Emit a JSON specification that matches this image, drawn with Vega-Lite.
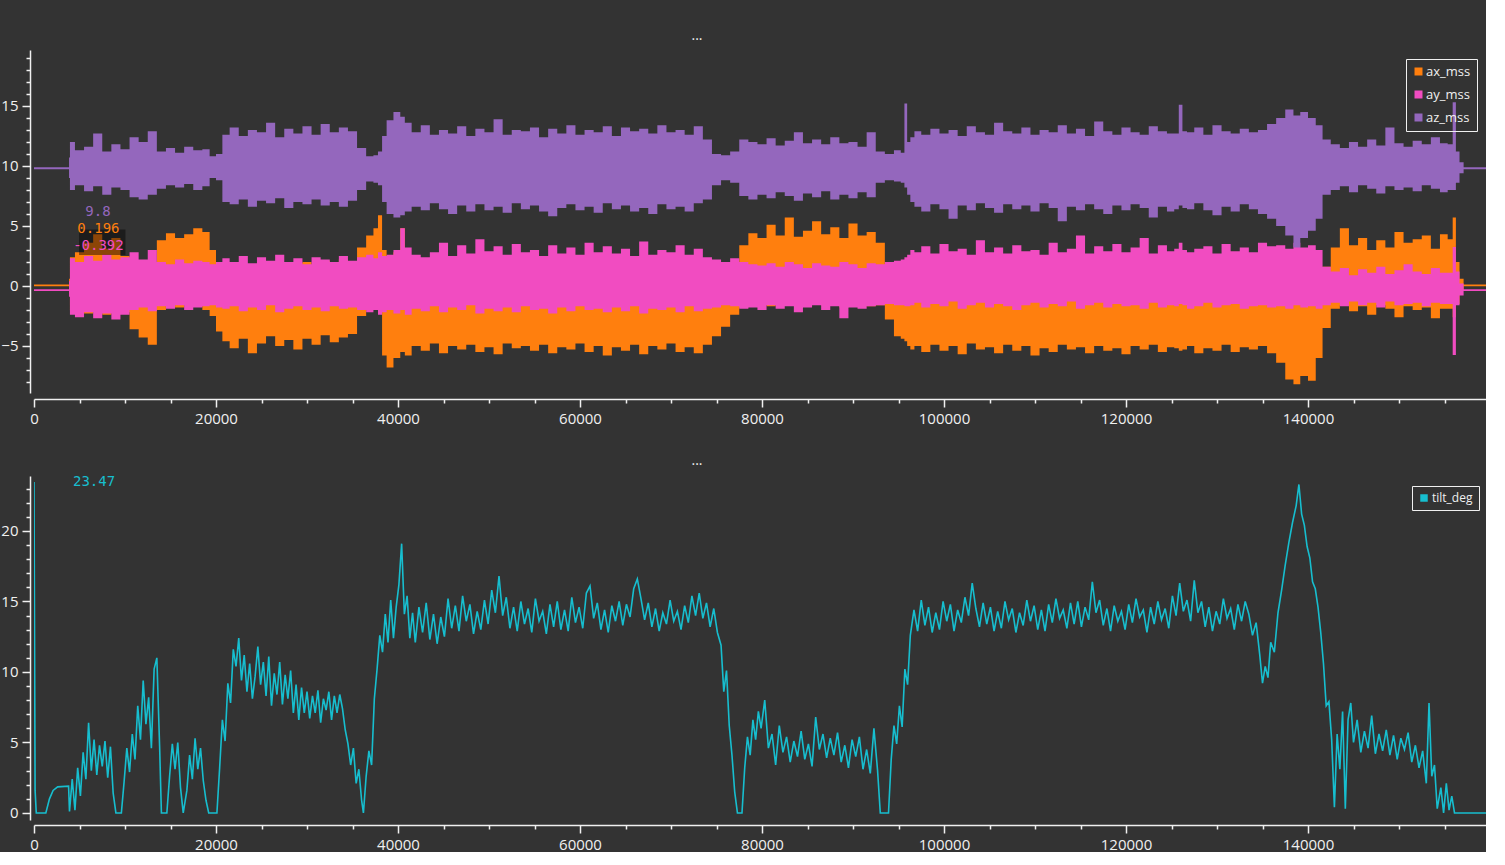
{
"$schema": "https://vega.github.io/schema/vega-lite/v6.json",
"background": "#333333",
"padding": {"left": 0, "top": 29, "right": 0, "bottom": 0},
"config": {
  "view": {"stroke": null},
  "font": "Open Sans",
  "axis": {"domainColor": "#f0f0f0", "tickColor": "#f0f0f0", "labelColor": "#f0f0f0", "labelFont": "Open Sans", "labelFontSize": 15, "grid": false, "domainWidth": 1.5, "tickWidth": 1.5, "labelOverlap": false, "labelFlush": false},
  "title": {"color": "#f0f0f0", "fontSize": 14, "fontWeight": "normal", "font": "Open Sans"}
},
"datasets": {
"acc": [
{"t":0,"axl":-0.03,"axh":0.13,"ayl":-0.43,"ayh":-0.27,"azl":9.72,"azh":9.88},
{"t":3800,"axl":-0.03,"axh":0.13,"ayl":-0.43,"ayh":-0.27,"azl":9.72,"azh":9.88},
{"t":3900,"axl":-0.6,"axh":0.6,"ayl":-0.9,"ayh":0.4,"azl":9.0,"azh":10.7},
{"t":4000,"axl":-2.0,"axh":2.4,"ayl":-2.4,"ayh":2.3,"azl":8.0,"azh":12.0},
{"t":5000,"axl":-1.7,"axh":2.8,"ayl":-2.6,"ayh":2.0,"azl":8.4,"azh":11.3},
{"t":6000,"axl":-2.3,"axh":3.6,"ayl":-2.2,"ayh":2.5,"azl":7.9,"azh":11.6},
{"t":7000,"axl":-1.9,"axh":4.3,"ayl":-2.7,"ayh":2.1,"azl":8.3,"azh":12.7},
{"t":8000,"axl":-2.4,"axh":3.1,"ayl":-2.3,"ayh":2.6,"azl":7.6,"azh":11.2},
{"t":9000,"axl":-1.8,"axh":4.0,"ayl":-2.8,"ayh":2.2,"azl":8.2,"azh":11.8},
{"t":10000,"axl":-2.2,"axh":2.5,"ayl":-2.4,"ayh":2.4,"azl":8.0,"azh":11.4},
{"t":11000,"axl":-3.6,"axh":1.6,"ayl":-2.0,"ayh":2.8,"azl":7.4,"azh":12.4},
{"t":12000,"axl":-4.3,"axh":1.4,"ayl":-1.8,"ayh":2.2,"azl":7.2,"azh":12.0},
{"t":13000,"axl":-4.9,"axh":1.5,"ayl":-2.1,"ayh":3.0,"azl":7.6,"azh":12.9},
{"t":14000,"axl":-2.0,"axh":3.8,"ayl":-1.7,"ayh":2.0,"azl":8.1,"azh":11.2},
{"t":15000,"axl":-1.6,"axh":4.4,"ayl":-1.9,"ayh":1.8,"azl":8.4,"azh":11.5},
{"t":16000,"axl":-1.8,"axh":4.0,"ayl":-1.6,"ayh":2.2,"azl":8.2,"azh":11.1},
{"t":17000,"axl":-1.5,"axh":4.3,"ayl":-2.0,"ayh":1.9,"azl":8.5,"azh":11.6},
{"t":18000,"axl":-1.7,"axh":4.8,"ayl":-1.8,"ayh":2.1,"azl":8.0,"azh":11.3},
{"t":19000,"axl":-2.0,"axh":4.5,"ayl":-1.7,"ayh":2.0,"azl":8.3,"azh":11.4},
{"t":19600,"axl":-2.5,"axh":3.0,"ayl":-1.6,"ayh":1.8,"azl":9.0,"azh":10.8},
{"t":20400,"axl":-3.8,"axh":1.8,"ayl":-1.8,"ayh":2.0,"azl":8.8,"azh":11.0},
{"t":21000,"axl":-4.6,"axh":1.6,"ayl":-1.9,"ayh":2.3,"azl":7.0,"azh":12.6},
{"t":22000,"axl":-5.2,"axh":1.4,"ayl":-1.7,"ayh":2.0,"azl":6.8,"azh":13.2},
{"t":23000,"axl":-4.4,"axh":1.2,"ayl":-2.1,"ayh":2.5,"azl":7.2,"azh":12.5},
{"t":24000,"axl":-5.6,"axh":1.5,"ayl":-1.8,"ayh":1.9,"azl":6.6,"azh":13.0},
{"t":25000,"axl":-4.8,"axh":1.7,"ayl":-2.0,"ayh":2.4,"azl":7.1,"azh":12.8},
{"t":26000,"axl":-4.2,"axh":1.3,"ayl":-1.6,"ayh":2.1,"azl":6.9,"azh":13.6},
{"t":27000,"axl":-5.0,"axh":1.8,"ayl":-2.2,"ayh":2.6,"azl":7.3,"azh":12.4},
{"t":28000,"axl":-4.5,"axh":1.5,"ayl":-1.9,"ayh":2.0,"azl":6.5,"azh":13.1},
{"t":29000,"axl":-5.3,"axh":1.9,"ayl":-1.7,"ayh":2.3,"azl":7.0,"azh":12.7},
{"t":30000,"axl":-4.4,"axh":2.0,"ayl":-2.0,"ayh":1.8,"azl":6.8,"azh":13.3},
{"t":31000,"axl":-4.9,"axh":1.6,"ayl":-1.8,"ayh":2.4,"azl":7.2,"azh":12.6},
{"t":32000,"axl":-4.1,"axh":2.1,"ayl":-2.1,"ayh":2.2,"azl":6.7,"azh":13.5},
{"t":33000,"axl":-4.7,"axh":1.8,"ayl":-1.7,"ayh":2.0,"azl":7.0,"azh":12.8},
{"t":34000,"axl":-4.3,"axh":2.2,"ayl":-1.9,"ayh":2.5,"azl":6.6,"azh":13.2},
{"t":35000,"axl":-4.0,"axh":2.0,"ayl":-1.8,"ayh":2.1,"azl":7.1,"azh":12.9},
{"t":36000,"axl":-2.5,"axh":3.2,"ayl":-2.0,"ayh":2.4,"azl":8.0,"azh":11.5},
{"t":37000,"axl":-1.8,"axh":4.2,"ayl":-2.2,"ayh":2.6,"azl":8.7,"azh":10.8},
{"t":37600,"axl":-2.0,"axh":4.8,"ayl":-2.0,"ayh":2.3,"azl":8.6,"azh":10.9},
{"t":38000,"axl":-1.7,"axh":5.9,"ayl":-2.4,"ayh":2.8,"azl":8.4,"azh":11.2},
{"t":38500,"axl":-5.8,"axh":3.0,"ayl":-2.2,"ayh":2.5,"azl":7.0,"azh":12.5},
{"t":39000,"axl":-6.8,"axh":2.4,"ayl":-2.0,"ayh":2.6,"azl":6.0,"azh":13.8},
{"t":40000,"axl":-6.0,"axh":2.8,"ayl":-2.3,"ayh":3.0,"azl":5.7,"azh":14.5},
{"t":40500,"axl":-5.5,"axh":4.8,"ayl":-2.0,"ayh":4.8,"azl":5.9,"azh":14.1},
{"t":41000,"axl":-5.8,"axh":1.0,"ayl":-2.4,"ayh":3.2,"azl":6.2,"azh":13.6},
{"t":42000,"axl":-5.0,"axh":0.6,"ayl":-1.9,"ayh":2.6,"azl":6.6,"azh":12.8},
{"t":43000,"axl":-5.4,"axh":0.5,"ayl":-2.1,"ayh":2.4,"azl":6.3,"azh":13.4},
{"t":44000,"axl":-4.8,"axh":0.4,"ayl":-1.7,"ayh":2.8,"azl":6.9,"azh":12.6},
{"t":45000,"axl":-5.6,"axh":0.6,"ayl":-2.2,"ayh":3.6,"azl":6.4,"azh":13.0},
{"t":46000,"axl":-5.0,"axh":0.5,"ayl":-1.8,"ayh":2.5,"azl":6.0,"azh":12.7},
{"t":47000,"axl":-5.3,"axh":0.4,"ayl":-2.0,"ayh":3.4,"azl":6.7,"azh":13.3},
{"t":48000,"axl":-4.9,"axh":0.6,"ayl":-1.6,"ayh":2.7,"azl":6.2,"azh":12.5},
{"t":49000,"axl":-5.5,"axh":0.5,"ayl":-2.3,"ayh":3.9,"azl":6.8,"azh":13.1},
{"t":50000,"axl":-5.1,"axh":0.4,"ayl":-1.9,"ayh":2.9,"azl":6.3,"azh":12.8},
{"t":51000,"axl":-5.7,"axh":0.6,"ayl":-2.1,"ayh":3.3,"azl":6.6,"azh":13.9},
{"t":52000,"axl":-4.8,"axh":0.5,"ayl":-1.8,"ayh":2.6,"azl":6.1,"azh":12.6},
{"t":53000,"axl":-5.2,"axh":0.4,"ayl":-2.2,"ayh":3.5,"azl":6.9,"azh":13.0},
{"t":54000,"axl":-5.0,"axh":0.6,"ayl":-1.7,"ayh":2.8,"azl":6.4,"azh":12.9},
{"t":55000,"axl":-5.4,"axh":0.5,"ayl":-2.0,"ayh":3.0,"azl":6.7,"azh":13.2},
{"t":56000,"axl":-4.9,"axh":0.4,"ayl":-1.9,"ayh":2.5,"azl":6.2,"azh":12.4},
{"t":57000,"axl":-5.6,"axh":0.6,"ayl":-2.3,"ayh":3.4,"azl":5.8,"azh":13.1},
{"t":58000,"axl":-5.1,"axh":0.5,"ayl":-1.8,"ayh":2.7,"azl":6.5,"azh":12.7},
{"t":59000,"axl":-5.3,"axh":0.4,"ayl":-2.1,"ayh":3.2,"azl":6.8,"azh":13.4},
{"t":60000,"axl":-4.8,"axh":0.6,"ayl":-1.7,"ayh":2.6,"azl":6.3,"azh":12.6},
{"t":61000,"axl":-5.5,"axh":0.5,"ayl":-2.0,"ayh":3.6,"azl":6.6,"azh":13.0},
{"t":62000,"axl":-5.0,"axh":0.4,"ayl":-1.9,"ayh":2.8,"azl":6.1,"azh":12.8},
{"t":63000,"axl":-5.8,"axh":0.6,"ayl":-2.2,"ayh":3.3,"azl":6.9,"azh":13.3},
{"t":64000,"axl":-5.1,"axh":0.5,"ayl":-1.8,"ayh":2.7,"azl":6.4,"azh":12.5},
{"t":65000,"axl":-5.4,"axh":0.4,"ayl":-2.1,"ayh":3.1,"azl":6.7,"azh":13.2},
{"t":66000,"axl":-4.9,"axh":0.6,"ayl":-1.7,"ayh":2.5,"azl":6.2,"azh":12.9},
{"t":67000,"axl":-5.7,"axh":0.5,"ayl":-2.3,"ayh":3.7,"azl":6.5,"azh":13.1},
{"t":68000,"axl":-5.0,"axh":0.4,"ayl":-1.9,"ayh":2.6,"azl":6.0,"azh":12.7},
{"t":69000,"axl":-5.3,"axh":0.6,"ayl":-2.0,"ayh":3.0,"azl":6.8,"azh":13.4},
{"t":70000,"axl":-4.8,"axh":0.5,"ayl":-1.8,"ayh":2.8,"azl":6.4,"azh":12.8},
{"t":71000,"axl":-5.5,"axh":0.4,"ayl":-2.2,"ayh":3.4,"azl":6.6,"azh":13.0},
{"t":72000,"axl":-5.1,"axh":0.6,"ayl":-1.7,"ayh":2.6,"azl":6.2,"azh":12.6},
{"t":73000,"axl":-5.6,"axh":0.5,"ayl":-2.1,"ayh":3.1,"azl":6.9,"azh":13.3},
{"t":74000,"axl":-4.9,"axh":0.4,"ayl":-1.9,"ayh":2.4,"azl":7.2,"azh":12.2},
{"t":75000,"axl":-4.2,"axh":0.6,"ayl":-1.8,"ayh":2.2,"azl":8.4,"azh":11.0},
{"t":76000,"axl":-3.4,"axh":0.8,"ayl":-1.6,"ayh":2.0,"azl":8.8,"azh":10.9},
{"t":77000,"axl":-2.4,"axh":1.2,"ayl":-1.7,"ayh":2.3,"azl":8.6,"azh":11.2},
{"t":78000,"axl":-1.8,"axh":3.4,"ayl":-1.9,"ayh":2.0,"azl":7.5,"azh":12.2},
{"t":79000,"axl":-1.6,"axh":4.4,"ayl":-1.8,"ayh":1.8,"azl":7.2,"azh":12.0},
{"t":80000,"axl":-1.5,"axh":4.0,"ayl":-2.0,"ayh":1.7,"azl":7.6,"azh":11.8},
{"t":81000,"axl":-1.7,"axh":5.1,"ayl":-1.6,"ayh":1.9,"azl":7.3,"azh":12.3},
{"t":82000,"axl":-1.4,"axh":4.2,"ayl":-1.9,"ayh":1.6,"azl":7.8,"azh":11.7},
{"t":83000,"axl":-1.6,"axh":5.7,"ayl":-1.7,"ayh":2.0,"azl":7.5,"azh":12.1},
{"t":84000,"axl":-1.5,"axh":4.1,"ayl":-2.2,"ayh":1.8,"azl":7.1,"azh":12.8},
{"t":85000,"axl":-1.7,"axh":4.6,"ayl":-1.8,"ayh":1.5,"azl":7.7,"azh":11.9},
{"t":86000,"axl":-1.4,"axh":5.4,"ayl":-1.6,"ayh":1.9,"azl":7.4,"azh":12.2},
{"t":87000,"axl":-1.6,"axh":4.3,"ayl":-2.0,"ayh":1.7,"azl":7.9,"azh":11.8},
{"t":88000,"axl":-1.5,"axh":4.9,"ayl":-1.7,"ayh":1.6,"azl":7.2,"azh":12.4},
{"t":89000,"axl":-1.8,"axh":4.0,"ayl":-2.7,"ayh":2.0,"azl":7.6,"azh":11.9},
{"t":90000,"axl":-1.6,"axh":5.2,"ayl":-1.8,"ayh":1.8,"azl":7.3,"azh":12.0},
{"t":91000,"axl":-1.5,"axh":4.2,"ayl":-1.9,"ayh":1.5,"azl":7.8,"azh":11.6},
{"t":92000,"axl":-1.7,"axh":4.5,"ayl":-1.7,"ayh":1.9,"azl":7.4,"azh":12.8},
{"t":93000,"axl":-1.6,"axh":3.6,"ayl":-1.6,"ayh":1.8,"azl":8.6,"azh":11.2},
{"t":94000,"axl":-2.8,"axh":1.8,"ayl":-1.5,"ayh":2.0,"azl":8.8,"azh":11.0},
{"t":95000,"axl":-4.2,"axh":1.2,"ayl":-1.6,"ayh":2.1,"azl":8.7,"azh":11.3},
{"t":95500,"axl":-4.4,"axh":1.1,"ayl":-1.6,"ayh":2.2,"azl":8.6,"azh":11.1},
{"t":95800,"axl":-4.6,"axh":1.0,"ayl":-1.7,"ayh":2.4,"azl":8.2,"azh":15.2},
{"t":96100,"axl":-5.0,"axh":0.8,"ayl":-1.7,"ayh":2.6,"azl":7.6,"azh":12.0},
{"t":96500,"axl":-5.3,"axh":0.6,"ayl":-1.6,"ayh":3.0,"azl":7.0,"azh":12.4},
{"t":97000,"axl":-5.0,"axh":0.5,"ayl":-1.4,"ayh":2.8,"azl":6.6,"azh":12.9},
{"t":98000,"axl":-5.5,"axh":0.4,"ayl":-1.8,"ayh":3.3,"azl":6.2,"azh":12.6},
{"t":99000,"axl":-4.9,"axh":0.6,"ayl":-1.5,"ayh":2.7,"azl":6.8,"azh":13.1},
{"t":100000,"axl":-5.4,"axh":0.5,"ayl":-1.7,"ayh":3.5,"azl":6.4,"azh":12.7},
{"t":101000,"axl":-5.0,"axh":0.4,"ayl":-1.3,"ayh":2.9,"azl":5.6,"azh":13.0},
{"t":102000,"axl":-5.7,"axh":0.6,"ayl":-1.9,"ayh":3.1,"azl":6.7,"azh":12.5},
{"t":103000,"axl":-4.8,"axh":0.5,"ayl":-1.6,"ayh":2.6,"azl":6.3,"azh":13.3},
{"t":104000,"axl":-5.3,"axh":0.4,"ayl":-1.4,"ayh":3.8,"azl":6.9,"azh":12.8},
{"t":105000,"axl":-5.1,"axh":0.6,"ayl":-1.8,"ayh":2.8,"azl":6.5,"azh":12.6},
{"t":106000,"axl":-5.6,"axh":0.5,"ayl":-1.5,"ayh":3.2,"azl":6.1,"azh":13.6},
{"t":107000,"axl":-4.9,"axh":0.4,"ayl":-1.7,"ayh":2.7,"azl":6.8,"azh":12.9},
{"t":108000,"axl":-5.4,"axh":0.6,"ayl":-2.0,"ayh":3.4,"azl":6.4,"azh":12.7},
{"t":109000,"axl":-5.0,"axh":0.5,"ayl":-1.6,"ayh":2.9,"azl":6.7,"azh":13.2},
{"t":110000,"axl":-5.8,"axh":0.4,"ayl":-1.4,"ayh":3.0,"azl":6.2,"azh":12.6},
{"t":111000,"axl":-5.2,"axh":0.6,"ayl":-1.8,"ayh":2.6,"azl":6.9,"azh":13.0},
{"t":112000,"axl":-5.5,"axh":0.5,"ayl":-1.5,"ayh":3.6,"azl":6.5,"azh":12.8},
{"t":113000,"axl":-4.9,"axh":0.4,"ayl":-1.7,"ayh":2.8,"azl":5.4,"azh":13.4},
{"t":114000,"axl":-5.3,"axh":0.6,"ayl":-1.3,"ayh":3.1,"azl":6.6,"azh":12.7},
{"t":115000,"axl":-5.1,"axh":0.5,"ayl":-1.9,"ayh":4.2,"azl":6.3,"azh":13.1},
{"t":116000,"axl":-5.6,"axh":0.4,"ayl":-1.6,"ayh":2.7,"azl":6.8,"azh":12.5},
{"t":117000,"axl":-5.0,"axh":0.6,"ayl":-1.4,"ayh":3.3,"azl":6.4,"azh":13.7},
{"t":118000,"axl":-5.4,"axh":0.5,"ayl":-1.8,"ayh":2.9,"azl":6.0,"azh":12.9},
{"t":119000,"axl":-5.2,"axh":0.4,"ayl":-1.5,"ayh":3.5,"azl":6.7,"azh":12.6},
{"t":120000,"axl":-5.7,"axh":0.6,"ayl":-1.7,"ayh":2.8,"azl":6.3,"azh":13.2},
{"t":121000,"axl":-5.0,"axh":0.5,"ayl":-1.6,"ayh":3.2,"azl":6.8,"azh":12.8},
{"t":122000,"axl":-5.3,"axh":0.4,"ayl":-1.9,"ayh":4.0,"azl":6.5,"azh":12.6},
{"t":123000,"axl":-4.9,"axh":0.6,"ayl":-1.4,"ayh":2.7,"azl":5.7,"azh":13.3},
{"t":124000,"axl":-5.5,"axh":0.5,"ayl":-1.8,"ayh":3.4,"azl":6.6,"azh":12.9},
{"t":125000,"axl":-5.1,"axh":0.4,"ayl":-1.6,"ayh":2.9,"azl":6.2,"azh":12.7},
{"t":125600,"axl":-5.2,"axh":0.5,"ayl":-1.7,"ayh":3.1,"azl":6.4,"azh":12.7},
{"t":126000,"axl":-5.4,"axh":0.6,"ayl":-1.5,"ayh":3.6,"azl":6.7,"azh":15.1},
{"t":126400,"axl":-5.3,"axh":0.5,"ayl":-1.6,"ayh":3.0,"azl":6.5,"azh":12.9},
{"t":127000,"axl":-5.0,"axh":0.5,"ayl":-1.9,"ayh":2.8,"azl":6.4,"azh":12.8},
{"t":128000,"axl":-5.6,"axh":0.4,"ayl":-1.7,"ayh":3.1,"azl":6.9,"azh":13.2},
{"t":129000,"axl":-5.2,"axh":0.6,"ayl":-1.4,"ayh":3.3,"azl":6.3,"azh":12.6},
{"t":130000,"axl":-5.4,"axh":0.5,"ayl":-1.8,"ayh":2.7,"azl":5.9,"azh":13.4},
{"t":131000,"axl":-4.9,"axh":0.4,"ayl":-1.6,"ayh":3.5,"azl":6.6,"azh":12.9},
{"t":132000,"axl":-5.5,"axh":0.6,"ayl":-1.5,"ayh":2.9,"azl":6.2,"azh":12.7},
{"t":133000,"axl":-5.1,"axh":0.5,"ayl":-1.9,"ayh":3.2,"azl":6.8,"azh":13.1},
{"t":134000,"axl":-5.3,"axh":0.4,"ayl":-1.7,"ayh":2.8,"azl":6.4,"azh":12.8},
{"t":135000,"axl":-5.0,"axh":0.6,"ayl":-1.6,"ayh":3.6,"azl":6.0,"azh":13.0},
{"t":136000,"axl":-5.6,"axh":0.5,"ayl":-1.8,"ayh":3.3,"azl":5.6,"azh":13.5},
{"t":137000,"axl":-6.4,"axh":0.2,"ayl":-1.7,"ayh":3.4,"azl":5.0,"azh":14.0},
{"t":138000,"axl":-7.8,"axh":0.0,"ayl":-1.9,"ayh":3.1,"azl":4.2,"azh":14.7},
{"t":138800,"axl":-8.2,"axh":0.1,"ayl":-1.6,"ayh":3.6,"azl":3.2,"azh":14.2},
{"t":139500,"axl":-7.5,"axh":0.0,"ayl":-1.8,"ayh":3.2,"azl":4.0,"azh":14.5},
{"t":140500,"axl":-7.9,"axh":0.3,"ayl":-1.7,"ayh":3.4,"azl":4.6,"azh":14.0},
{"t":141200,"axl":-6.0,"axh":0.5,"ayl":-1.9,"ayh":3.0,"azl":5.6,"azh":13.4},
{"t":142000,"axl":-3.5,"axh":1.6,"ayl":-1.6,"ayh":1.6,"azl":7.6,"azh":12.2},
{"t":143000,"axl":-1.9,"axh":3.2,"ayl":-1.4,"ayh":1.2,"azl":8.0,"azh":11.8},
{"t":144000,"axl":-1.6,"axh":4.8,"ayl":-1.7,"ayh":1.5,"azl":8.3,"azh":11.5},
{"t":145000,"axl":-2.1,"axh":3.4,"ayl":-1.3,"ayh":0.9,"azl":7.8,"azh":12.0},
{"t":146000,"axl":-1.7,"axh":4.0,"ayl":-1.6,"ayh":1.4,"azl":8.4,"azh":11.6},
{"t":147000,"axl":-2.4,"axh":3.0,"ayl":-1.4,"ayh":1.1,"azl":8.1,"azh":12.2},
{"t":148000,"axl":-1.6,"axh":3.8,"ayl":-1.8,"ayh":1.6,"azl":7.7,"azh":11.7},
{"t":149000,"axl":-1.9,"axh":3.2,"ayl":-1.3,"ayh":1.0,"azl":8.3,"azh":13.2},
{"t":150000,"axl":-2.6,"axh":4.5,"ayl":-1.6,"ayh":1.3,"azl":8.0,"azh":11.9},
{"t":151000,"axl":-1.7,"axh":3.6,"ayl":-1.5,"ayh":1.8,"azl":8.2,"azh":11.6},
{"t":152000,"axl":-2.0,"axh":3.9,"ayl":-1.4,"ayh":1.2,"azl":7.9,"azh":12.1},
{"t":153000,"axl":-1.8,"axh":4.2,"ayl":-1.7,"ayh":1.0,"azl":8.4,"azh":11.8},
{"t":154000,"axl":-2.7,"axh":3.1,"ayl":-1.4,"ayh":1.5,"azl":8.1,"azh":12.4},
{"t":155000,"axl":-1.9,"axh":4.3,"ayl":-1.5,"ayh":1.1,"azl":7.8,"azh":11.9},
{"t":155700,"axl":-1.9,"axh":3.9,"ayl":-1.5,"ayh":1.1,"azl":8.0,"azh":11.8},
{"t":156100,"axl":-2.6,"axh":5.7,"ayl":-5.75,"ayh":3.25,"azl":8.0,"azh":15.3},
{"t":156400,"axl":-1.5,"axh":2.0,"ayl":-1.6,"ayh":1.2,"azl":8.6,"azh":11.2},
{"t":156900,"axl":-0.4,"axh":0.6,"ayl":-0.8,"ayh":0.2,"azl":9.4,"azh":10.3},
{"t":157300,"axl":-0.03,"axh":0.13,"ayl":-0.43,"ayh":-0.27,"azl":9.72,"azh":9.88},
{"t":159560,"axl":-0.03,"axh":0.13,"ayl":-0.43,"ayh":-0.27,"azl":9.72,"azh":9.88}
],
"tilt": [
{"t":0,"v":23.47},{"t":120,"v":1.6},{"t":250,"v":0},{"t":1300,"v":0},{"t":1700,"v":1.0},{"t":2100,"v":1.6},{"t":2600,"v":1.85},{"t":3800,"v":1.9},
{"t":3900,"v":0.1},{"t":4200,"v":2.4},{"t":4500,"v":0.2},{"t":4800,"v":3.2},{"t":5100,"v":1.2},{"t":5400,"v":4.3},{"t":5700,"v":2.4},{"t":6000,"v":6.4},
{"t":6300,"v":3.0},{"t":6600,"v":5.2},{"t":6900,"v":2.7},{"t":7200,"v":4.8},{"t":7500,"v":3.3},{"t":7800,"v":5.1},{"t":8100,"v":2.5},{"t":8400,"v":4.7},
{"t":8700,"v":1.4},{"t":9000,"v":0},{"t":9600,"v":0},{"t":9900,"v":2.2},{"t":10200,"v":4.6},{"t":10500,"v":2.9},{"t":10800,"v":5.6},{"t":11100,"v":3.8},
{"t":11400,"v":7.6},{"t":11700,"v":5.2},{"t":12000,"v":9.4},{"t":12300,"v":6.3},{"t":12600,"v":8.2},{"t":12900,"v":4.6},{"t":13200,"v":10.2},{"t":13500,"v":11.0},
{"t":13800,"v":4.8},{"t":14000,"v":0},{"t":14600,"v":0},{"t":14900,"v":2.6},{"t":15200,"v":4.9},{"t":15500,"v":3.1},{"t":15800,"v":5.0},{"t":16100,"v":1.8},
{"t":16400,"v":0},{"t":16800,"v":1.6},{"t":17100,"v":4.1},{"t":17400,"v":2.4},{"t":17700,"v":5.3},{"t":18000,"v":3.1},{"t":18300,"v":4.6},{"t":18600,"v":2.3},
{"t":18900,"v":0.9},{"t":19200,"v":0},{"t":20100,"v":0},{"t":20400,"v":3.2},{"t":20700,"v":6.6},{"t":21000,"v":5.1},{"t":21300,"v":9.2},{"t":21600,"v":7.8},
{"t":21900,"v":11.6},{"t":22200,"v":10.4},{"t":22500,"v":12.4},{"t":22800,"v":9.4},{"t":23100,"v":11.2},{"t":23400,"v":8.6},{"t":23700,"v":10.6},{"t":24000,"v":8.1},
{"t":24300,"v":9.7},{"t":24600,"v":11.8},{"t":24900,"v":9.1},{"t":25200,"v":10.7},{"t":25500,"v":8.3},{"t":25800,"v":11.1},{"t":26100,"v":7.6},{"t":26400,"v":9.9},
{"t":26700,"v":8.4},{"t":27000,"v":10.7},{"t":27300,"v":7.7},{"t":27600,"v":9.8},{"t":27900,"v":8.1},{"t":28200,"v":10.1},{"t":28500,"v":7.1},{"t":28800,"v":9.1},
{"t":29100,"v":6.6},{"t":29400,"v":8.9},{"t":29700,"v":7.1},{"t":30000,"v":8.6},{"t":30300,"v":6.7},{"t":30600,"v":8.3},{"t":30900,"v":7.1},{"t":31200,"v":8.7},
{"t":31500,"v":6.4},{"t":31800,"v":8.1},{"t":32100,"v":7.3},{"t":32400,"v":8.6},{"t":32700,"v":6.6},{"t":33000,"v":8.3},{"t":33300,"v":7.1},{"t":33600,"v":8.4},
{"t":33900,"v":7.4},{"t":34200,"v":5.9},{"t":34500,"v":4.9},{"t":34800,"v":3.4},{"t":35100,"v":4.6},{"t":35400,"v":2.1},{"t":35700,"v":3.1},{"t":36000,"v":0.9},
{"t":36200,"v":0},{"t":36500,"v":2.6},{"t":36800,"v":4.4},{"t":37100,"v":3.4},{"t":37400,"v":8.1},{"t":37700,"v":10.2},{"t":38000,"v":12.6},{"t":38300,"v":11.4},
{"t":38600,"v":14.1},{"t":38900,"v":12.1},{"t":39200,"v":15.1},{"t":39500,"v":12.4},{"t":39800,"v":14.6},{"t":40100,"v":16.2},{"t":40400,"v":19.1},{"t":40700,"v":14.1},
{"t":41000,"v":15.4},{"t":41300,"v":12.4},{"t":41600,"v":14.2},{"t":41900,"v":12.1},{"t":42300,"v":14.6},{"t":42700,"v":12.8},{"t":43100,"v":14.9},{"t":43500,"v":12.3},
{"t":43900,"v":14.1},{"t":44300,"v":12.0},{"t":44700,"v":13.9},{"t":45100,"v":12.5},{"t":45500,"v":15.2},{"t":45900,"v":13.1},{"t":46300,"v":14.7},{"t":46700,"v":12.9},
{"t":47100,"v":15.4},{"t":47500,"v":13.6},{"t":47900,"v":14.8},{"t":48300,"v":12.7},{"t":48700,"v":14.3},{"t":49100,"v":13.0},{"t":49500,"v":15.1},{"t":49900,"v":13.4},
{"t":50300,"v":15.8},{"t":50700,"v":14.2},{"t":51100,"v":16.8},{"t":51500,"v":14.0},{"t":51900,"v":15.3},{"t":52300,"v":13.1},{"t":52700,"v":14.6},{"t":53100,"v":12.9},
{"t":53500,"v":15.0},{"t":53900,"v":13.4},{"t":54300,"v":14.5},{"t":54700,"v":12.8},{"t":55100,"v":15.2},{"t":55500,"v":13.6},{"t":55900,"v":14.3},{"t":56300,"v":12.7},
{"t":56700,"v":14.8},{"t":57100,"v":13.2},{"t":57500,"v":15.0},{"t":57900,"v":13.0},{"t":58300,"v":14.4},{"t":58700,"v":12.9},{"t":59100,"v":15.3},{"t":59500,"v":13.5},
{"t":59900,"v":14.6},{"t":60300,"v":13.1},{"t":60700,"v":15.6},{"t":61100,"v":16.1},{"t":61500,"v":13.8},{"t":61900,"v":14.9},{"t":62300,"v":13.0},{"t":62700,"v":14.4},
{"t":63100,"v":12.8},{"t":63500,"v":14.7},{"t":63900,"v":13.6},{"t":64300,"v":15.0},{"t":64700,"v":13.3},{"t":65100,"v":14.8},{"t":65500,"v":13.9},{"t":65900,"v":15.9},
{"t":66300,"v":16.6},{"t":66700,"v":15.2},{"t":67100,"v":13.7},{"t":67500,"v":14.9},{"t":67900,"v":13.2},{"t":68300,"v":14.5},{"t":68700,"v":12.9},{"t":69100,"v":14.2},
{"t":69500,"v":13.4},{"t":69900,"v":15.1},{"t":70300,"v":13.6},{"t":70700,"v":14.3},{"t":71100,"v":13.0},{"t":71500,"v":14.7},{"t":71900,"v":13.5},{"t":72300,"v":15.4},
{"t":72700,"v":14.0},{"t":73100,"v":15.6},{"t":73500,"v":13.8},{"t":73900,"v":14.9},{"t":74300,"v":13.2},{"t":74700,"v":14.5},{"t":75100,"v":12.8},{"t":75500,"v":11.9},
{"t":75800,"v":8.6},{"t":76100,"v":10.1},{"t":76400,"v":6.2},{"t":76700,"v":4.1},{"t":77000,"v":1.5},{"t":77300,"v":0},{"t":77800,"v":0},{"t":78100,"v":3.2},
{"t":78400,"v":5.4},{"t":78700,"v":4.1},{"t":79000,"v":6.6},{"t":79300,"v":5.2},{"t":79600,"v":7.2},{"t":79900,"v":6.0},{"t":80300,"v":8.0},{"t":80700,"v":4.6},
{"t":81100,"v":5.6},{"t":81500,"v":3.4},{"t":81900,"v":6.2},{"t":82300,"v":4.3},{"t":82700,"v":5.4},{"t":83100,"v":3.6},{"t":83500,"v":5.1},{"t":83900,"v":4.0},
{"t":84300,"v":5.8},{"t":84700,"v":3.8},{"t":85100,"v":4.9},{"t":85500,"v":3.3},{"t":85900,"v":6.8},{"t":86300,"v":4.5},{"t":86700,"v":5.6},{"t":87100,"v":3.9},
{"t":87500,"v":5.3},{"t":87900,"v":4.1},{"t":88300,"v":5.7},{"t":88700,"v":3.6},{"t":89100,"v":4.8},{"t":89500,"v":3.2},{"t":89900,"v":5.2},{"t":90300,"v":4.0},
{"t":90700,"v":5.4},{"t":91100,"v":3.1},{"t":91500,"v":4.5},{"t":91900,"v":2.8},{"t":92300,"v":6.0},{"t":92700,"v":3.0},{"t":93000,"v":0},{"t":93900,"v":0},
{"t":94200,"v":3.8},{"t":94500,"v":6.2},{"t":94800,"v":4.9},{"t":95100,"v":7.6},{"t":95400,"v":6.1},{"t":95700,"v":10.2},{"t":96000,"v":9.1},{"t":96300,"v":12.6},
{"t":96700,"v":14.4},{"t":97100,"v":12.9},{"t":97500,"v":15.1},{"t":97900,"v":13.3},{"t":98300,"v":14.6},{"t":98700,"v":12.8},{"t":99100,"v":14.2},{"t":99500,"v":13.0},
{"t":99900,"v":15.0},{"t":100300,"v":13.6},{"t":100700,"v":14.8},{"t":101100,"v":12.9},{"t":101500,"v":14.4},{"t":101900,"v":13.5},{"t":102300,"v":15.3},{"t":102700,"v":14.0},
{"t":103100,"v":16.3},{"t":103500,"v":14.5},{"t":103900,"v":13.2},{"t":104300,"v":14.9},{"t":104700,"v":13.4},{"t":105100,"v":14.6},{"t":105500,"v":12.9},{"t":105900,"v":14.3},
{"t":106300,"v":13.1},{"t":106700,"v":15.0},{"t":107100,"v":13.7},{"t":107500,"v":14.5},{"t":107900,"v":12.8},{"t":108300,"v":14.2},{"t":108700,"v":13.3},{"t":109100,"v":15.1},
{"t":109500,"v":13.6},{"t":109900,"v":14.7},{"t":110300,"v":13.0},{"t":110700,"v":14.4},{"t":111100,"v":12.9},{"t":111500,"v":14.8},{"t":111900,"v":13.5},{"t":112300,"v":15.2},
{"t":112700,"v":13.8},{"t":113100,"v":14.4},{"t":113500,"v":13.1},{"t":113900,"v":14.9},{"t":114300,"v":13.4},{"t":114700,"v":15.0},{"t":115100,"v":13.2},{"t":115500,"v":14.6},
{"t":115900,"v":13.7},{"t":116300,"v":16.4},{"t":116700,"v":14.2},{"t":117100,"v":15.1},{"t":117500,"v":13.3},{"t":117900,"v":14.5},{"t":118300,"v":12.9},{"t":118700,"v":14.7},
{"t":119100,"v":13.6},{"t":119500,"v":14.3},{"t":119900,"v":13.0},{"t":120300,"v":14.8},{"t":120700,"v":13.5},{"t":121100,"v":15.2},{"t":121500,"v":13.9},{"t":121900,"v":14.4},
{"t":122300,"v":12.8},{"t":122700,"v":14.6},{"t":123100,"v":13.4},{"t":123500,"v":15.0},{"t":123900,"v":13.7},{"t":124300,"v":14.5},{"t":124700,"v":13.1},{"t":125100,"v":15.4},
{"t":125500,"v":14.0},{"t":125900,"v":16.3},{"t":126300,"v":14.3},{"t":126700,"v":15.1},{"t":127100,"v":13.6},{"t":127500,"v":16.5},{"t":127900,"v":14.2},{"t":128300,"v":15.0},
{"t":128700,"v":13.2},{"t":129100,"v":14.6},{"t":129500,"v":12.9},{"t":129900,"v":14.3},{"t":130300,"v":13.4},{"t":130700,"v":15.2},{"t":131100,"v":13.8},{"t":131500,"v":14.5},
{"t":131900,"v":13.0},{"t":132300,"v":14.8},{"t":132700,"v":13.6},{"t":133100,"v":15.0},{"t":133500,"v":14.1},{"t":133900,"v":12.6},{"t":134300,"v":13.5},{"t":134700,"v":11.2},
{"t":135000,"v":9.2},{"t":135300,"v":10.4},{"t":135600,"v":9.6},{"t":135900,"v":12.1},{"t":136300,"v":11.4},{"t":136700,"v":14.2},{"t":137100,"v":15.8},{"t":137500,"v":17.6},
{"t":137900,"v":19.2},{"t":138300,"v":20.6},{"t":138700,"v":21.8},{"t":139000,"v":23.3},{"t":139300,"v":21.2},{"t":139600,"v":20.4},{"t":139900,"v":18.9},{"t":140200,"v":18.1},
{"t":140500,"v":16.4},{"t":140800,"v":15.9},{"t":141100,"v":14.6},{"t":141400,"v":12.8},{"t":141700,"v":10.6},{"t":142000,"v":7.6},{"t":142300,"v":7.9},{"t":142600,"v":5.2},
{"t":142900,"v":0.4},{"t":143200,"v":5.6},{"t":143500,"v":3.1},{"t":143800,"v":7.2},{"t":144100,"v":0.3},{"t":144400,"v":6.6},{"t":144700,"v":7.8},{"t":145000,"v":5.0},
{"t":145400,"v":6.6},{"t":145800,"v":4.3},{"t":146200,"v":5.8},{"t":146600,"v":4.6},{"t":147000,"v":6.9},{"t":147400,"v":4.2},{"t":147800,"v":5.6},{"t":148200,"v":4.4},
{"t":148600,"v":5.9},{"t":149000,"v":4.1},{"t":149400,"v":5.5},{"t":149800,"v":3.8},{"t":150200,"v":5.3},{"t":150600,"v":4.5},{"t":151000,"v":5.7},{"t":151400,"v":3.6},
{"t":151800,"v":4.8},{"t":152200,"v":3.2},{"t":152600,"v":4.4},{"t":153000,"v":2.1},{"t":153300,"v":7.8},{"t":153600,"v":2.6},{"t":153900,"v":3.4},{"t":154200,"v":0.3},
{"t":154600,"v":1.8},{"t":154900,"v":0},{"t":155200,"v":2.1},{"t":155500,"v":0.2},{"t":155800,"v":1.2},{"t":156100,"v":0},{"t":159560,"v":0}
]
},
"resolve": {"scale": {"color": "independent"}, "legend": {"color": "independent"}},
"spacing": 28,
"vconcat": [
{
  "width": 1452, "height": 343,
  "title": {"text": "...", "dx": -63, "dy": -3},
  "resolve": {"axis": {"y": "independent"}},
  "layer": [
    {"data": {"name": "acc"}, "mark": {"type": "area", "opacity": 1, "clip": true, "interpolate": "step"},
     "encoding": {
       "x": {"field": "t", "type": "quantitative", "scale": {"domain": [0, 159560], "nice": false, "zero": false},
             "axis": {"title": null, "values": [0,5000,10000,15000,20000,25000,30000,35000,40000,45000,50000,55000,60000,65000,70000,75000,80000,85000,90000,95000,100000,105000,110000,115000,120000,125000,130000,135000,140000,145000,150000,155000],
                      "format": "d", "labelExpr": "datum.value % 20000 === 0 ? datum.label : ''", "labelOverlap": false, "labelFlush": false,
                      "tickSize": {"condition": {"test": "datum.value % 20000 === 0", "value": 8}, "value": 4}, "offset": 6, "labelPadding": 4}},
       "y": {"field": "axl", "type": "quantitative", "scale": {"domain": [-8.92, 19.66], "nice": false, "zero": false},
             "axis": {"title": null, "orient": "left", "values": [-5, 0, 5, 10, 15], "tickSize": 8, "offset": 4, "labelPadding": 4}},
       "y2": {"field": "axh"},
       "color": {"datum": "ax_mss", "type": "nominal", "scale": {"domain": ["ax_mss", "ay_mss", "az_mss"], "range": ["#ff7f0e", "#f14cc1", "#9467bd"]},
                 "legend": {"orient": "none", "legendX": 1372, "legendY": 9, "title": null, "symbolType": "square", "symbolSize": 64,
                            "strokeColor": "#f0f0f0", "padding": 6, "labelColor": "#f0f0f0", "labelFontSize": 13, "labelFont": "Open Sans",
                            "rowPadding": 9, "labelOffset": 1, "symbolStrokeWidth": 0}}
     }},
    {"data": {"name": "acc"}, "mark": {"type": "area", "opacity": 1, "clip": true, "interpolate": "step"},
     "encoding": {"x": {"field": "t", "type": "quantitative"}, "y": {"field": "ayl", "type": "quantitative", "axis": null}, "y2": {"field": "ayh"}, "color": {"datum": "ay_mss", "type": "nominal"}}},
    {"data": {"name": "acc"}, "mark": {"type": "area", "opacity": 1, "clip": true, "interpolate": "step"},
     "encoding": {"x": {"field": "t", "type": "quantitative"}, "y": {"field": "azl", "type": "quantitative", "axis": null}, "y2": {"field": "azh"}, "color": {"datum": "az_mss", "type": "nominal"}}},
    {"data": {"values": [{"t1": 4950, "t2": 10050, "y1": 2.58, "y2": 4.7}]}, "mark": {"type": "rect", "color": "#000000", "opacity": 0.45},
     "encoding": {"x": {"field": "t1", "type": "quantitative"}, "x2": {"field": "t2"},
                  "y": {"field": "y1", "type": "quantitative",
                        "axis": {"title": null, "orient": "left", "values": [-8,-7,-6,-4,-3,-2,-1,1,2,3,4,6,7,8,9,11,12,13,14,16,17,18,19], "labels": false, "domain": false, "tickSize": 4, "offset": 4}},
                  "y2": {"field": "y2"}}},
    {"data": {"values": [{"t": 7030, "y": 6.17, "label": "9.8"}]}, "mark": {"type": "text", "color": "#9467bd", "font": "DejaVu Sans Mono", "fontSize": 14},
     "encoding": {"x": {"field": "t", "type": "quantitative"}, "y": {"field": "y", "type": "quantitative", "axis": null}, "text": {"field": "label"}}},
    {"data": {"values": [{"t": 7080, "y": 4.75, "label": "0.196"}]}, "mark": {"type": "text", "color": "#ff7f0e", "font": "DejaVu Sans Mono", "fontSize": 14},
     "encoding": {"x": {"field": "t", "type": "quantitative"}, "y": {"field": "y", "type": "quantitative", "axis": null}, "text": {"field": "label"}}},
    {"data": {"values": [{"t": 7080, "y": 3.33, "label": "-0.392"}]}, "mark": {"type": "text", "color": "#f14cc1", "font": "DejaVu Sans Mono", "fontSize": 14},
     "encoding": {"x": {"field": "t", "type": "quantitative"}, "y": {"field": "y", "type": "quantitative", "axis": null}, "text": {"field": "label"}}}
  ]
},
{
  "width": 1452, "height": 344,
  "title": {"text": "...", "dx": -63, "dy": -3},
  "resolve": {"axis": {"y": "independent"}},
  "layer": [
    {"data": {"name": "tilt"}, "mark": {"type": "line", "strokeWidth": 1.6, "clip": true},
     "encoding": {
       "x": {"field": "t", "type": "quantitative", "scale": {"domain": [0, 159560], "nice": false, "zero": false},
             "axis": {"title": null, "values": [0,5000,10000,15000,20000,25000,30000,35000,40000,45000,50000,55000,60000,65000,70000,75000,80000,85000,90000,95000,100000,105000,110000,115000,120000,125000,130000,135000,140000,145000,150000,155000],
                      "format": "d", "labelExpr": "datum.value % 20000 === 0 ? datum.label : ''", "labelOverlap": false, "labelFlush": false,
                      "tickSize": {"condition": {"test": "datum.value % 20000 === 0", "value": 8}, "value": 4}, "offset": 5, "labelPadding": 4}},
       "y": {"field": "v", "type": "quantitative", "scale": {"domain": [-0.5, 23.9], "nice": false, "zero": false},
             "axis": {"title": null, "orient": "left", "values": [0, 5, 10, 15, 20], "tickSize": 8, "offset": 4, "labelPadding": 4}},
       "color": {"datum": "tilt_deg", "type": "nominal", "scale": {"domain": ["tilt_deg"], "range": ["#17becf"]},
                 "legend": {"orient": "none", "legendX": 1378, "legendY": 10, "title": null, "symbolType": "square", "symbolSize": 56,
                            "strokeColor": "#f0f0f0", "padding": 6, "labelColor": "#f0f0f0", "labelFontSize": 12, "labelFont": "Open Sans", "labelOffset": 2,
                            "encode": {"symbols": {"update": {"fill": {"value": "#17becf"}, "stroke": {"value": "#17becf"}, "strokeWidth": {"value": 0}}}}}}
     }},
    {"data": {"values": [{"t": 6600, "y": 23.47, "label": "23.47"}]}, "mark": {"type": "text", "color": "#17becf", "font": "DejaVu Sans Mono", "fontSize": 14},
     "encoding": {"x": {"field": "t", "type": "quantitative"},
                  "y": {"field": "y", "type": "quantitative",
                        "axis": {"title": null, "orient": "left", "values": [1,2,3,4,6,7,8,9,11,12,13,14,16,17,18,19,21,22,23], "labels": false, "domain": false, "tickSize": 4, "offset": 4}},
                  "text": {"field": "label"}}}
  ]
}
]
}
